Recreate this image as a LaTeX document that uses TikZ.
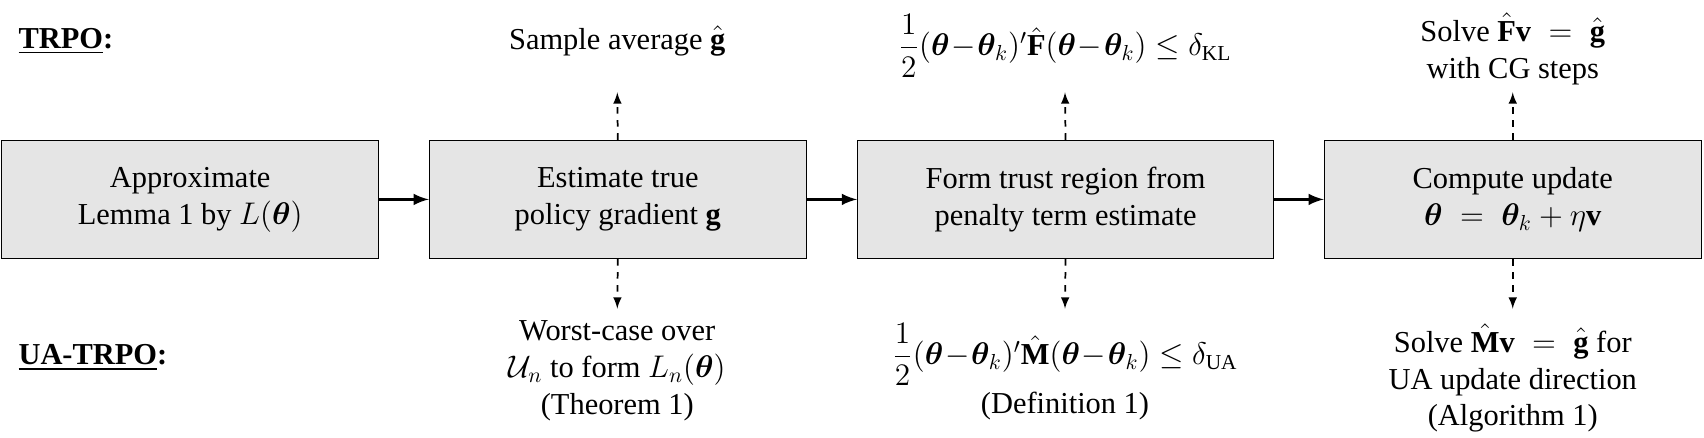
\documentclass[tikz,border=0pt]{standalone}
\usepackage{amsmath,amssymb,bm}
\usepackage{fontspec}
\setmainfont{Liberation Serif}
\begin{document}
\begin{tikzpicture}[x=0.5pt,y=-0.5pt,
  every node/.style={font=\fontsize{14}{17}\selectfont},
  box/.style={draw,fill=gray!20,minimum width=173.5pt,minimum height=54.5pt,align=center,inner sep=0pt},
  txt/.style={align=center},
  arr/.style={-latex,line width=1.4pt},
  darr/.style={-latex,dashed,thick}]
\path[use as bounding box,draw=none] (0,0) rectangle (1568,403);
\node[box,txt] (b1) at (175,183.5) {Approximate\\Lemma 1 by $L(\bm\theta)$};
\node[box,txt] (b2) at (568.5,183.5) {Estimate true\\policy gradient $\mathbf g$};
\node[box,txt,minimum width=191.5pt] (b3) at (980.5,183.5) {Form trust region from\\penalty term estimate};
\node[box,txt] (b4) at (1392,183.5) {Compute update\\$\bm\theta\;=\;\bm\theta_k+\eta\mathbf v$};
\draw[arr] (b1) -- (b2);
\draw[arr] (b2) -- (b3);
\draw[arr] (b3) -- (b4);
\node[txt] (t2) at (568,38) {Sample average $\hat{\mathbf g}$};
\node[txt] (t3) at (980,42) {$\dfrac12(\bm\theta\!-\!\bm\theta_k)'\hat{\mathbf F}(\bm\theta\!-\!\bm\theta_k)\le\delta_{\mathrm{KL}}$};
\node[txt] (t4) at (1392,45) {Solve $\hat{\mathbf F}\mathbf v\;=\;\hat{\mathbf g}$\\with CG steps};
\node[txt] (u2) at (568,341) {Worst-case over\\$\mathcal U_n$ to form $L_n(\bm\theta)$\\(Theorem 1)};
\node[txt] (u3) at (980,342) {$\dfrac12(\bm\theta\!-\!\bm\theta_k)'\hat{\mathbf M}(\bm\theta\!-\!\bm\theta_k)\le\delta_{\mathrm{UA}}$\\[2pt](Definition 1)};
\node[txt] (u4) at (1392,348) {Solve $\hat{\mathbf M}\mathbf v\;=\;\hat{\mathbf g}$ for\\UA update direction\\(Algorithm 1)};
\coordinate (upb2) at (568,85);  \coordinate (dnb2) at (568,284);
\coordinate (upb3) at (980,85);  \coordinate (dnb3) at (980,284);
\coordinate (upb4) at (1392,85); \coordinate (dnb4) at (1392,284);
\draw[darr] (b2.north) -- (upb2);
\draw[darr] (b2.south) -- (dnb2);
\draw[darr] (b3.north) -- (upb3);
\draw[darr] (b3.south) -- (dnb3);
\draw[darr] (b4.north) -- (upb4);
\draw[darr] (b4.south) -- (dnb4);
\node[txt,anchor=west] (l1) at (10,38) {\textbf{\underline{TRPO}:}};
\node[txt,anchor=west] (l2) at (10,329) {\textbf{\underline{UA-TRPO}:}};
\end{tikzpicture}
\end{document}
